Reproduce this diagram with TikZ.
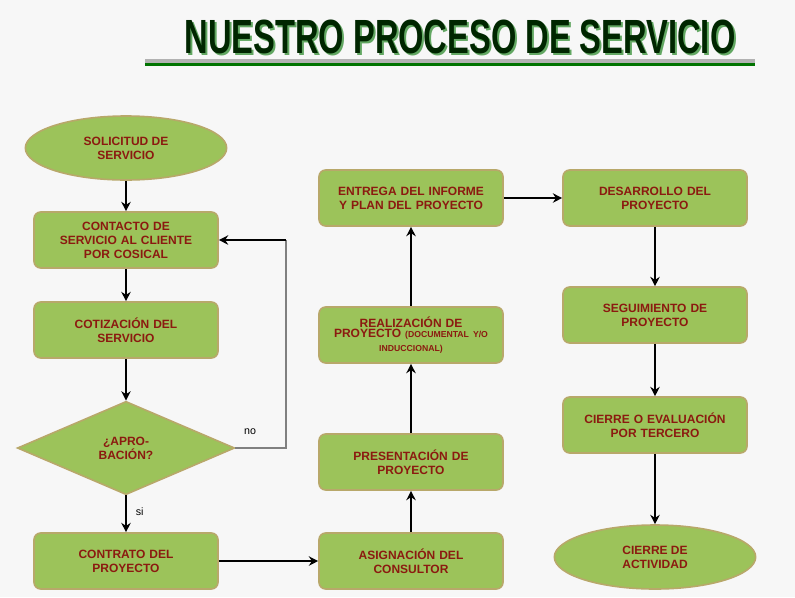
\documentclass[tikz,border=0pt]{standalone}
\usepackage{fontspec}
\setmainfont{Liberation Sans}
\usetikzlibrary{shapes.geometric,arrows.meta}
\definecolor{boxfill}{HTML}{9CC35A}
\definecolor{boxedge}{HTML}{B8A86A}
\definecolor{txtred}{HTML}{8B1A10}
\begin{document}
\begin{tikzpicture}[x=0.75pt,y=-0.75pt,
  base/.style={fill=boxfill,draw=boxedge,line width=1.2pt,text=txtred,font=\bfseries\fontsize{9}{10.5}\selectfont,align=center,inner sep=1pt},
  box/.style={base,rectangle,rounded corners=5pt,minimum width=138pt,minimum height=42pt,text width=130pt},
  oval/.style={base,ellipse,minimum width=151pt,minimum height=48pt},
  dia/.style={base,diamond,minimum width=163pt,minimum height=70pt,aspect=2.35},
  arr/.style={-{Stealth[length=7pt,width=7pt]},line width=2pt,black}]
\useasboundingbox[fill=white!97!black] (0,0) rectangle (795,597);
% title
\node[font=\bfseries\fontsize{36}{36}\selectfont,text=green!45!black,xscale=0.68,opacity=0.6] at (462,38.5) {NUESTRO PROCESO DE SERVICIO};
\node[font=\bfseries\fontsize{36}{36}\selectfont,text=black!85!green,xscale=0.68] (title) at (460,37) {NUESTRO PROCESO DE SERVICIO};
\fill[gray!60] (145,59) rectangle (755,63);
\fill[green!45!black] (145,63) rectangle (755,66);
% nodes
\node[oval] (sol) at (126,148) {SOLICITUD DE\\SERVICIO};
\node[box] (con) at (126,240) {CONTACTO DE\\SERVICIO AL CLIENTE\\POR COSICAL};
\node[box] (cot) at (126,330) {COTIZACIÓN DEL\\SERVICIO};
\node[dia] (apr) at (126,448) {¿APRO-\\BACIÓN?};
\node[box] (ctr) at (126,561) {CONTRATO DEL\\PROYECTO};
\node[box] (asi) at (411,561) {ASIGNACIÓN DEL\\CONSULTOR};
\node[box] (pre) at (411,462) {PRESENTACIÓN DE\\PROYECTO};
\node[box] (rea) at (411,335) {REALIZACIÓN DE\\PROYECTO {\fontsize{6.5}{8}\selectfont (DOCUMENTAL Y/O\\INDUCCIONAL)}};
\node[box] (ent) at (411,198) {ENTREGA DEL INFORME\\Y PLAN DEL PROYECTO};
\node[box] (des) at (655,198) {DESARROLLO DEL\\PROYECTO};
\node[box] (seg) at (655,315) {SEGUIMIENTO DE\\PROYECTO};
\node[box] (cie) at (655,425) {CIERRE O EVALUACIÓN\\POR TERCERO};
\node[oval] (act) at (655,557) {CIERRE DE\\ACTIVIDAD};
% arrows
\draw[arr] (sol) -- (con);
\draw[arr] (con) -- (cot);
\draw[arr] (cot) -- (apr);
\draw[arr] (apr) -- node[right,font=\fontsize{8}{9}\selectfont,pos=0.45,xshift=3pt]{si} (ctr);
\draw[arr] (ctr) -- (asi);
\draw[arr] (asi) -- (pre);
\draw[arr] (pre) -- (rea);
\draw[arr] (rea) -- (ent);
\draw[arr] (ent) -- (des);
\draw[arr] (des) -- (seg);
\draw[arr] (seg) -- (cie);
\draw[arr] (cie) -- (act);
\coordinate (c1) at (286,448);
\coordinate (c2) at (286,240);
\draw[line width=1.2pt,gray] (apr.east) -- (c1) -- (c2);
\draw[arr] (c2) -- (con.east);
\node[font=\fontsize{8}{9}\selectfont] (no) at (250,432) {no};
\end{tikzpicture}
\end{document}
